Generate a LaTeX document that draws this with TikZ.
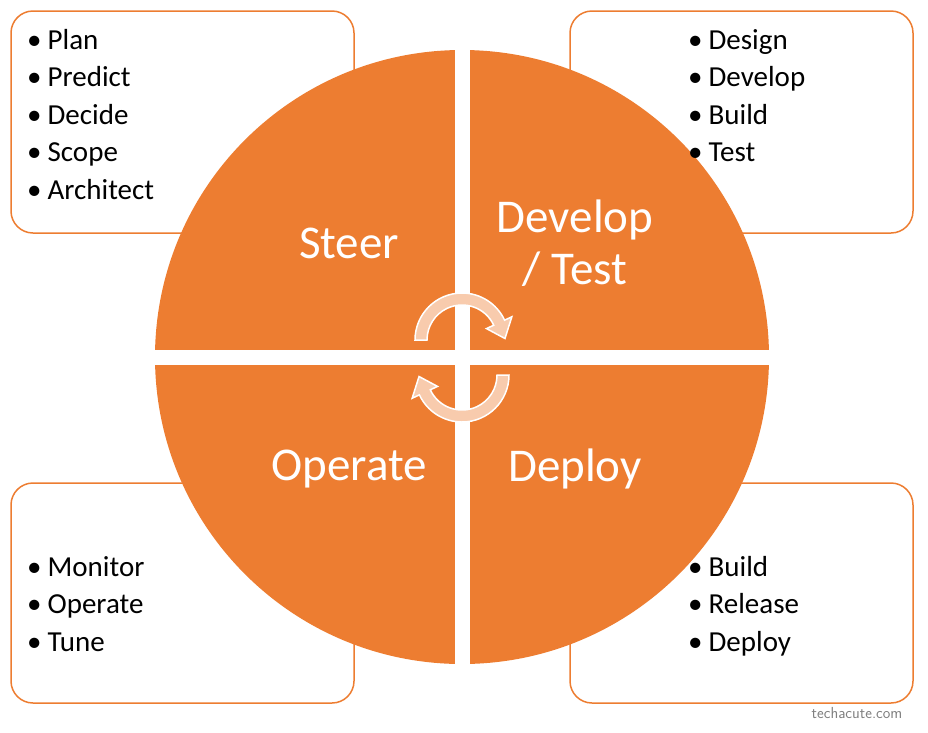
\documentclass[tikz,border=0pt]{standalone}
\usepackage{fontspec}
\setmainfont{Carlito}
\begin{document}
\begin{tikzpicture}[x=1pt,y=-1pt,
  box/.style={draw=orange1,line width=1.5pt,rounded corners=22pt,fill=white},
  item/.style={anchor=west,inner sep=0pt,text height=20pt,text depth=6pt,font=\fontsize{29}{34}\selectfont},
  lab/.style={text=white,align=center,font=\fontsize{47}{52}\selectfont},
  arr/.style={fill=peach,draw=white,line width=1.5pt}]
\definecolor{orange1}{HTML}{ED7D31}
\definecolor{peach}{HTML}{F8CBAD}
\useasboundingbox (0,0) rectangle (928,732);
\draw[box] (11,11) rectangle (354,233);
\draw[box] (570,11) rectangle (913,233);
\draw[box] (11,483) rectangle (354,703);
\draw[box] (570,483) rectangle (913,703);
\fill[orange1] (462,357) circle (307);
\draw[white,line width=15pt] (462,40) -- (462,675);
\draw[white,line width=15pt] (140,357.5) -- (780,357.5);
\node[lab] (s) at (349,243) {Steer};
\node[lab] (d) at (575,243) {Develop\\/ Test};
\node[lab] (o) at (349,469) {Operate};
\node[lab] (p) at (575,469) {Deploy};
\foreach \t [count=\i] in {Plan,Predict,Decide,Scope,Architect}
  \node[item] (a\i) at (27,{42+37.5*(\i-1)}) {•\hspace{6pt}\t};
\foreach \t [count=\i] in {Design,Develop,Build,Test}
  \node[item] (b\i) at (688,{42+37.5*(\i-1)}) {•\hspace{6pt}\t};
\foreach \t [count=\i] in {Monitor,Operate,Tune}
  \node[item] (c\i) at (27,{569+37.5*(\i-1)}) {•\hspace{6pt}\t};
\foreach \t [count=\i] in {Build,Release,Deploy}
  \node[item] (e\i) at (688,{569+37.5*(\i-1)}) {•\hspace{6pt}\t};
\begin{scope}[shift={(462,340)}]
\draw[arr] (180:47) arc[start angle=180,end angle=335,radius=47] -- (335:55) -- (358:43) -- (335:27) -- (335:35) arc[start angle=335,end angle=180,radius=35] -- cycle;
\end{scope}
\begin{scope}[shift={(462,375)},rotate=180]
\draw[arr] (180:47) arc[start angle=180,end angle=335,radius=47] -- (335:55) -- (358:43) -- (335:27) -- (335:35) arc[start angle=335,end angle=180,radius=35] -- cycle;
\end{scope}
\node[text=gray,font=\fontsize{16}{18}\selectfont\sffamily] (w) at (857,713) {techacute.com};
\end{tikzpicture}
\end{document}
